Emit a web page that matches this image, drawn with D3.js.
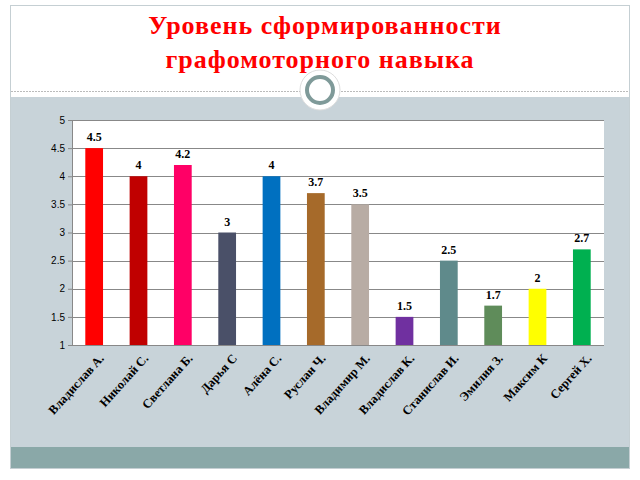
<!DOCTYPE html>
<html lang="ru">
<head>
  <meta charset="utf-8">
  <title>Уровень сформированности графомоторного навыка</title>
  <script src="https://d3js.org/d3.v7.min.js"></script>
  <style>
    body { margin: 0; background: #fff; }
    .serif { font-family: "Liberation Serif", "DejaVu Serif", serif; font-weight: bold; }
  </style>
</head>
<body>
  <div id="chart"></div>
  <script>
    "use strict"

    var names = ['Владислав А.', 'Николай С.', 'Светлана Б.', 'Дарья С', 'Алёна С.', 'Руслан Ч.',
                 'Владимир М.', 'Владислав К.', 'Станислав И.', 'Эмилия З.', 'Максим К', 'Сергей Х.']
    var values = [4.5, 4, 4.2, 3, 4, 3.7, 3.5, 1.5, 2.5, 1.7, 2, 2.7]
    var valueLabels = ['4.5', '4', '4.2', '3', '4', '3.7', '3.5', '1.5', '2.5', '1.7', '2', '2.7']
    var colors = ['#ff0000', '#c00000', '#ff0066', '#4a5068', '#0070c0', '#a66a2a',
                  '#b8aca4', '#7030a0', '#5f8a8b', '#5f8c5a', '#ffff00', '#00b050']
    var yTicks = [1, 1.5, 2, 2.5, 3, 3.5, 4, 4.5, 5]

    var svg = d3.select('#chart').append('svg')
        .attr('width', 640).attr('height', 480)

    // рамка слайда
    svg.append('rect').attr('x', 10.5).attr('y', 5.5).attr('width', 619).attr('height', 463)
        .attr('fill', '#fff').attr('stroke', '#c5cfd3')
    svg.append('rect').attr('x', 11).attr('y', 97).attr('width', 618).attr('height', 350)
        .attr('fill', '#c8d3d9')
    svg.append('rect').attr('x', 11).attr('y', 447).attr('width', 618).attr('height', 21)
        .attr('fill', '#8aa8a8')
    svg.append('line').attr('x1', 11).attr('x2', 629).attr('y1', 91.5).attr('y2', 91.5)
        .attr('stroke', '#bbb').attr('stroke-dasharray', '2,1')
    svg.append('circle').attr('cx', 320).attr('cy', 90).attr('r', 20).attr('fill', '#fff')
        .attr('stroke', '#ddd')
    svg.append('circle').attr('cx', 320).attr('cy', 90).attr('r', 13).attr('fill', '#fff')
        .attr('stroke', '#7f9a99').attr('stroke-width', 4)

    svg.append('text').attr('class', 'serif').attr('x', 325).attr('y', 34).attr('text-anchor', 'middle')
        .attr('font-size', 26).attr('letter-spacing', 1).attr('fill', '#ff0000').text('Уровень сформированности')
    svg.append('text').attr('class', 'serif').attr('x', 320).attr('y', 68).attr('text-anchor', 'middle')
        .attr('font-size', 26).attr('letter-spacing', 1).attr('fill', '#ff0000').text('графомоторного навыка')

    var margin = {left: 72, top: 120}, w = 532, h = 225
    var g = svg.append('g').attr('transform', 'translate(' + margin.left + ',' + margin.top + ')')
    g.append('rect').attr('width', w).attr('height', h).attr('fill', '#fff')

    var x = d3.scaleBand().domain(names).range([0, w]).paddingInner(0.6).paddingOuter(0.3)
    var y = d3.scaleLinear().domain([1, 5]).range([h, 0])

    g.selectAll('.grid').data(yTicks).enter().append('line')
        .attr('x1', 0).attr('x2', w)
        .attr('y1', d => Math.round(y(d)) + 0.5).attr('y2', d => Math.round(y(d)) + 0.5)
        .attr('stroke', '#888')

    var ax = g.append('g').call(d3.axisLeft(y).tickValues(yTicks).tickFormat(d3.format('')).tickSize(4))
    ax.select('.domain').attr('stroke', '#888')
    ax.selectAll('line').attr('stroke', '#888')
    ax.selectAll('text').attr('font-family', 'Liberation Sans').attr('font-size', 10).attr('fill', '#000')

    g.selectAll('.bar').data(values).enter().append('rect')
        .attr('x', (d, i) => x(names[i])).attr('width', x.bandwidth())
        .attr('y', d => y(d)).attr('height', d => h - y(d))
        .attr('fill', (d, i) => colors[i])

    g.selectAll('.val').data(values).enter().append('text').attr('class', 'serif')
        .attr('x', (d, i) => x(names[i]) + x.bandwidth() / 2).attr('y', d => y(d) - 7)
        .attr('text-anchor', 'middle').attr('font-size', 12)
        .text((d, i) => valueLabels[i])

    g.append('line').attr('x1', 0).attr('x2', w).attr('y1', h + 0.5).attr('y2', h + 0.5).attr('stroke', '#888')

    g.selectAll('.name').data(names).enter().append('text').attr('class', 'serif')
        .attr('transform', d => 'translate(' + (x(d) + x.bandwidth() / 2 + 4) + ',' + (h + 8) + ') rotate(-48)')
        .attr('text-anchor', 'end').attr('dy', '0.7em').attr('font-size', 12.5)
        .text(d => d)
  </script>
</body>
</html>
